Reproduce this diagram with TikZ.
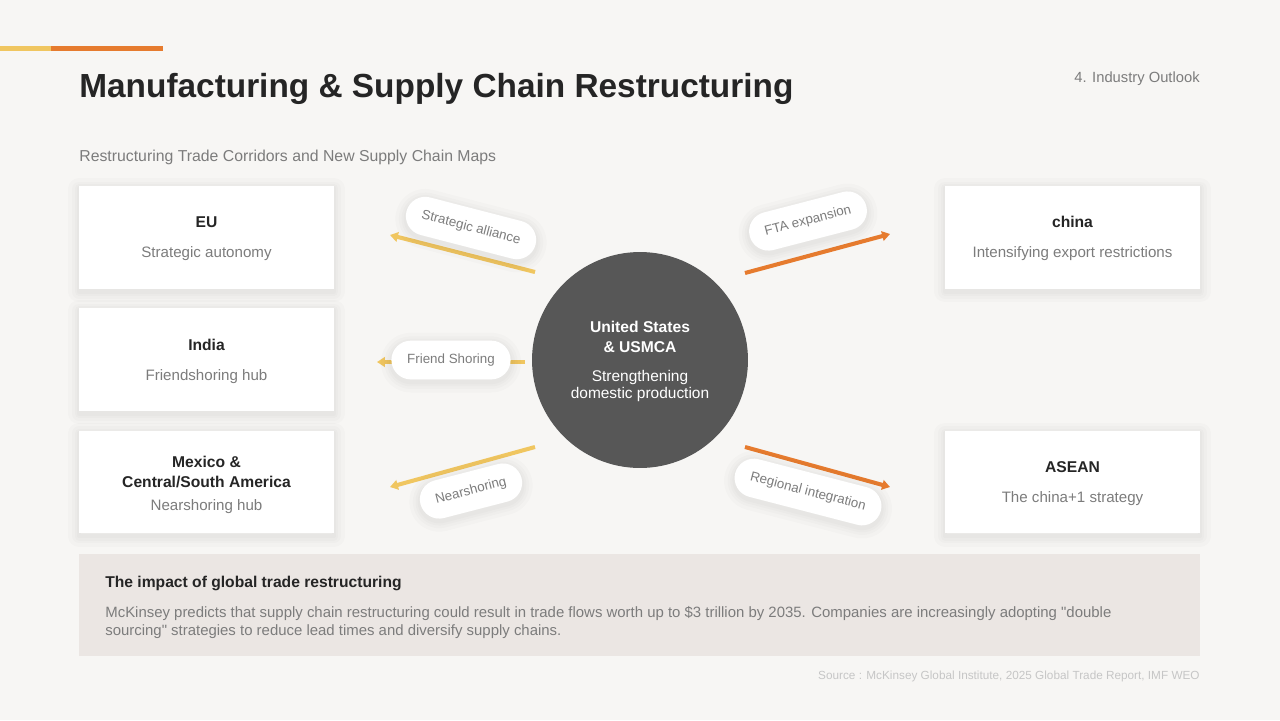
\documentclass[tikz,border=0pt]{standalone}
\usepackage{fontspec}
\setmainfont{Liberation Sans}
\usetikzlibrary{arrows.meta}
\definecolor{pagebg}{HTML}{F7F6F4}
\definecolor{panelbg}{HTML}{EBE6E3}
\definecolor{accentY}{HTML}{F0C660}
\definecolor{accentO}{HTML}{E67B2E}
\definecolor{hubgray}{HTML}{575757}
\definecolor{inkdark}{HTML}{252525}
\definecolor{inkgray}{HTML}{7C7C7C}
\definecolor{inklight}{HTML}{C6C6C6}
\newcommand{\fsz}[1]{\fontsize{#1}{#1}\selectfont}

\begin{document}
\begin{tikzpicture}[x=0.02cm,y=-0.02cm,line cap=round,inner sep=0pt,
  haze/.style={preaction={draw=black,draw opacity=0.014,line width=#1,line join=round,transform canvas={yshift=-1.5pt}}},
  softshadow/.style={haze=12pt,haze=8pt,haze=5pt,haze=2.5pt},
  card/.style={fill=white,minimum width=5.1cm,minimum height=2.06cm,softshadow},
  cardtitle/.style={anchor=base,text=inkdark,font=\fsz{8.9}\bfseries},
  cardsub/.style={anchor=base,text=inkgray,font=\fsz{8.6}},
  pill/.style={fill=white,rounded corners=11pt,minimum height=22pt,inner xsep=9pt,
    text=inkgray,font=\fsz{7.6},softshadow},
  flow/.style={line width=2.3pt,line cap=butt,-{Triangle[length=4.5pt,width=5.5pt]}}]
  % page
  \fill[pagebg] (0,0) rectangle (1280,720);
  \fill[accentY] (0,46) rectangle (51,51);
  \fill[accentO] (51,46) rectangle (163,51);
  \node[anchor=base west,text=inkdark,font=\fsz{19}\bfseries] (title) at (79,97) {Manufacturing \& Supply Chain Restructuring};
  \node[anchor=base east,text=inkgray,font=\fsz{8.4}] (section) at (1200,82) {4. Industry Outlook};
  \node[anchor=base west,text=inkgray,font=\fsz{9}] (subtitle) at (79,161) {Restructuring Trade Corridors and New Supply Chain Maps};

  % region cards
  \node[card] (eu) at (206.5,237.5) {};
  \node[cardtitle] at (206.5,227) {EU};
  \node[cardsub] at (206.5,257) {Strategic autonomy};
  \node[card] (india) at (206.5,359.5) {};
  \node[cardtitle] at (206.5,350) {India};
  \node[cardsub] at (206.5,380) {Friendshoring hub};
  \node[card] (mexico) at (206.5,482) {};
  \node[cardtitle] at (206.5,467) {Mexico \&};
  \node[cardtitle] at (206.5,487) {Central/South America};
  \node[cardsub] at (206.5,510) {Nearshoring hub};
  \node[card] (china) at (1072.5,237.5) {};
  \node[cardtitle] at (1072.5,227) {china};
  \node[cardsub] at (1072.5,257) {Intensifying export restrictions};
  \node[card] (asean) at (1072.5,482) {};
  \node[cardtitle] at (1072.5,472) {ASEAN};
  \node[cardsub] at (1072.5,502) {The china+1 strategy};

  % hub
  \node[circle,fill=hubgray,minimum size=4.32cm] (hub) at (640,360) {};
  \node[anchor=base,text=white,font=\fsz{8.9}\bfseries] at (640,332) {United States};
  \node[anchor=base,text=white,font=\fsz{8.9}\bfseries] at (640,352) {\& USMCA};
  \node[anchor=base,text=white,font=\fsz{8.8}] at (640,381) {Strengthening};
  \node[anchor=base,text=white,font=\fsz{8.8}] at (640,398) {domestic production};

  % corridors
  \coordinate (allianceS) at (535,272);  \coordinate (allianceE) at (390,235);
  \coordinate (friendS) at (525,362);    \coordinate (friendE) at (377,362);
  \coordinate (nearS) at (535,447);      \coordinate (nearE) at (390,487);
  \coordinate (ftaS) at (745,273);       \coordinate (ftaE) at (890,234);
  \coordinate (regionS) at (745,447);    \coordinate (regionE) at (890,487);
  \draw[flow,accentY] (allianceS) -- (allianceE);
  \draw[flow,accentY] (friendS) -- (friendE);
  \draw[flow,accentY] (nearS) -- (nearE);
  \draw[flow,accentO] (ftaS) -- (ftaE);
  \draw[flow,accentO] (regionS) -- (regionE);
  \node[pill,rotate=-14.5] (alliance) at (471,228) {Strategic alliance};
  \node[pill] (friend) at (451,360) {Friend Shoring};
  \node[pill,rotate=14.5] (near) at (471,491) {Nearshoring};
  \node[pill,rotate=14.5] (fta) at (808,221) {FTA expansion};
  \node[pill,rotate=-14.5] (region) at (808,492) {Regional integration};

  % impact panel
  \fill[panelbg] (79,554) rectangle (1200,656);
  \node[anchor=base west,text=inkdark,font=\fsz{8.9}\bfseries] (impact) at (105,587) {The impact of global trade restructuring};
  \node[anchor=base west,text=inkgray,font=\fsz{8.5}] at (105,617) {McKinsey predicts that supply chain restructuring could result in trade flows worth up to \$3 trillion by 2035. Companies are increasingly adopting \textquotedbl double};
  \node[anchor=base west,text=inkgray,font=\fsz{8.5}] at (105,635) {sourcing\textquotedbl{} strategies to reduce lead times and diversify supply chains.};
  \node[anchor=base east,text=inklight,font=\fsz{6.7}] (source) at (1200,679) {Source : McKinsey Global Institute, 2025 Global Trade Report, IMF WEO};
\end{tikzpicture}
\end{document}
